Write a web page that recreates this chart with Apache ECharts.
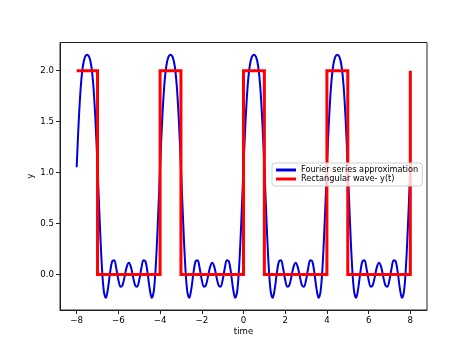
<!DOCTYPE html>
<html>
<head>
<meta charset="utf-8">
<script src="https://cdn.jsdelivr.net/npm/echarts@6/dist/echarts.min.js"></script>
<style>html,body{margin:0;padding:0;background:#fff}#c{width:474px;height:355px}</style>
</head>
<body>
<div id="c"></div>
<script>
// Fourier series approximation (time samples and values)
const fourierTime = [-8,-7.9,-7.8,-7.7,-7.6,-7.5,-7.4,-7.3,-7.2,-7.1,-7,-6.9,-6.8,-6.7,-6.6,-6.5,-6.4,-6.3,-6.2,-6.1,-6,-5.9,-5.8,-5.7,-5.6,-5.5,-5.4,-5.3,-5.2,-5.1,-5,-4.9,-4.8,-4.7,-4.6,-4.5,-4.4,-4.3,-4.2,-4.1,
-4,-3.9,-3.8,-3.7,-3.6,-3.5,-3.4,-3.3,-3.2,-3.1,-3,-2.9,-2.8,-2.7,-2.6,-2.5,-2.4,-2.3,-2.2,-2.1,-2,-1.9,-1.8,-1.7,-1.6,-1.5,-1.4,-1.3,-1.2,-1.1,-1,-0.9,-0.8,-0.7,-0.6,-0.5,-0.4,-0.3,-0.2,-0.1,
0,0.1,0.2,0.3,0.4,0.5,0.6,0.7,0.8,0.9,1,1.1,1.2,1.3,1.4,1.5,1.6,1.7,1.8,1.9,2,2.1,2.2,2.3,2.4,2.5,2.6,2.7,2.8,2.9,3,3.1,3.2,3.3,3.4,3.5,3.6,3.7,3.8,3.9,
4,4.1,4.2,4.3,4.4,4.5,4.6,4.7,4.8,4.9,5,5.1,5.2,5.3,5.4,5.5,5.6,5.7,5.8,5.9,6,6.1,6.2,6.3,6.4,6.5,6.6,6.7,6.8,6.9,7,7.1,7.2,7.3,7.4,7.5,7.6,7.7,7.8,7.9,8];
const fourierValue = [1.052,1.512,1.851,2.048,2.135,2.157,2.135,2.048,1.851,1.512,1.052,0.547,0.111,-0.160,-0.228,-0.137,0.017,0.130,0.141,0.060,-0.052,-0.119,-0.102,-0.018,0.076,0.116,0.076,-0.018,-0.102,-0.119,-0.052,0.060,0.141,0.130,0.017,-0.137,-0.228,-0.160,0.111,0.547,
1.052,1.512,1.851,2.048,2.135,2.157,2.135,2.048,1.851,1.512,1.052,0.547,0.111,-0.160,-0.228,-0.137,0.017,0.130,0.141,0.060,-0.052,-0.119,-0.102,-0.018,0.076,0.116,0.076,-0.018,-0.102,-0.119,-0.052,0.060,0.141,0.130,0.017,-0.137,-0.228,-0.160,0.111,0.547,
1.052,1.512,1.851,2.048,2.135,2.157,2.135,2.048,1.851,1.512,1.052,0.547,0.111,-0.160,-0.228,-0.137,0.017,0.130,0.141,0.060,-0.052,-0.119,-0.102,-0.018,0.076,0.116,0.076,-0.018,-0.102,-0.119,-0.052,0.060,0.141,0.130,0.017,-0.137,-0.228,-0.160,0.111,0.547,
1.052,1.512,1.851,2.048,2.135,2.157,2.135,2.048,1.851,1.512,1.052,0.547,0.111,-0.160,-0.228,-0.137,0.017,0.130,0.141,0.060,-0.052,-0.119,-0.102,-0.018,0.076,0.116,0.076,-0.018,-0.102,-0.119,-0.052,0.060,0.141,0.130,0.017,-0.137,-0.228,-0.160,0.111,0.547,
1.052];

// Rectangular wave y(t)
const rectTime  = [-8,-7,-7,-4,-4,-3,-3,0,0,1,1,4,4,5,5,8,8];
const rectValue = [ 2, 2, 0, 0, 2, 2, 0,0,2,2,0,0,2,2,0,0,2];

// Tick labels
const xTicks = [-8,-6,-4,-2,0,2,4,6,8];
const yTicks = [0,0.5,1,1.5,2];

const seriesNames = ['Fourier series approximation','Rectangular wave- y(t)'];

const pair = (xs, ys) => xs.map((x, i) => [x, ys[i]]);
const FONT = 'DejaVu Sans';
const AX = '#222';
const FS = 8.6;

const chart = echarts.init(document.getElementById('c'), null, {renderer: 'canvas'});
chart.setOption({
  animation: false,
  backgroundColor: '#fff',
  textStyle: {fontFamily: FONT},
  grid: {left: 60, right: 47, top: 42.5, bottom: 45, show: true, borderColor: AX, borderWidth: 1, backgroundColor: 'transparent'},
  legend: {
    left: 272, top: 163,
    orient: 'vertical',
    itemWidth: 20, itemHeight: 3, itemGap: 1,
    padding: [3, 4, 3, 4],
    backgroundColor: 'rgba(255,255,255,0.8)',
    borderColor: '#d0d0d0', borderWidth: 1, borderRadius: 3,
    textStyle: {fontFamily: FONT, fontSize: 8.2, color: '#000'},
    data: [
      {name: seriesNames[0], icon: 'rect', itemStyle: {color: '#0000dd'}},
      {name: seriesNames[1], icon: 'rect', itemStyle: {color: '#ff0000'}}
    ]
  },
  xAxis: {
    type: 'value', min: -8.8, max: 8.8,
    name: 'time', nameLocation: 'middle', nameGap: 17, nameMoveOverlap: false,
    nameTextStyle: {fontFamily: FONT, fontSize: FS, color: '#000'},
    splitLine: {show: false},
    axisLine: {show: true, onZero: false, lineStyle: {color: AX}},
    axisTick: {show: true, length: 4, customValues: xTicks, lineStyle: {color: AX}},
    axisLabel: {customValues: xTicks, margin: 6, fontFamily: FONT, fontSize: FS, color: '#000',
      formatter: v => v < 0 ? '\u2212' + Math.abs(v) : String(v)}
  },
  yAxis: {
    type: 'value', min: -0.347, max: 2.276,
    name: 'y', nameLocation: 'middle', nameGap: 25, nameMoveOverlap: false,
    nameTextStyle: {fontFamily: FONT, fontSize: FS, color: '#000'},
    splitLine: {show: false},
    axisLine: {show: true, onZero: false, lineStyle: {color: AX}},
    axisTick: {show: true, length: 4, customValues: yTicks, lineStyle: {color: AX}},
    axisLabel: {customValues: yTicks, margin: 6, fontFamily: FONT, fontSize: FS, color: '#000',
      formatter: v => Number(v).toFixed(1)}
  },
  series: [
    {
      name: seriesNames[0], type: 'line', data: pair(fourierTime, fourierValue),
      showSymbol: false, smooth: 0.35, z: 2,
      lineStyle: {color: '#0000dd', width: 2},
      itemStyle: {color: '#0000dd'}
    },
    {
      name: seriesNames[1], type: 'line', data: pair(rectTime, rectValue),
      showSymbol: false, z: 3,
      lineStyle: {color: '#ff0000', width: 3, join: 'miter'},
      itemStyle: {color: '#ff0000'}
    }
  ]
});
</script>
</body>
</html>
